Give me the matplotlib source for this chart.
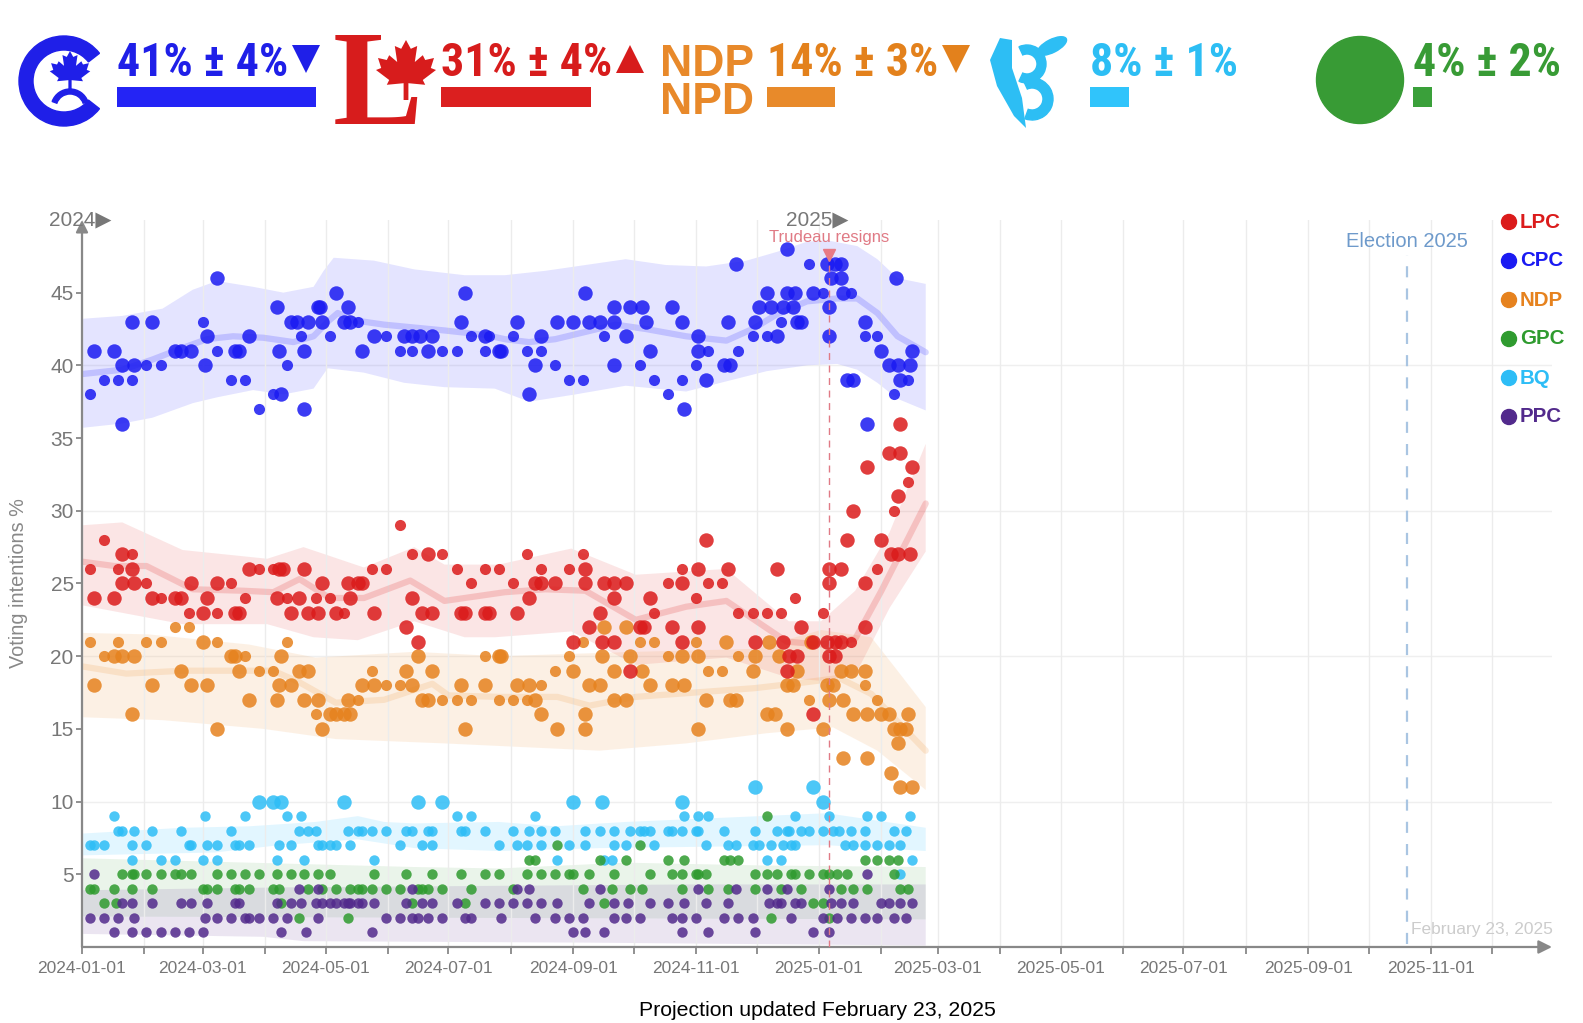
import numpy as np
import matplotlib
matplotlib.use("Agg")
import matplotlib.pyplot as plt
import matplotlib.dates as mdates
from matplotlib import font_manager as fm
from matplotlib.patches import Wedge, Circle, Ellipse, Polygon, Rectangle

plt.rcParams['font.family'] = ['Liberation Sans', 'DejaVu Sans']


def pick_font(names):
    for n in names:
        try:
            fm.findfont(fm.FontProperties(family=n), fallback_to_default=False)
            return n
        except ValueError:
            pass
    return 'DejaVu Sans'


narrow = pick_font(['Liberation Sans Narrow', 'Roboto Condensed', 'Liberation Sans'])

# ---------------- data (day offset from 2024-01-01, value, big marker) ----------------
cpc = [(4,38,0),(6,41,1),(11,39,0),(16,41,1),(18,39,0),(20,40,1),(20,36,1),(25,39,0),(25,43,1),(26,40,1),
       (32,40,0),(35,43,1),(39,40,0),(46,41,1),(49,41,1),(54,41,1),(60,43,0),(61,40,1),(62,42,1),(67,46,1),
       (67,41,0),(74,39,0),(76,41,1),(78,41,1),(81,39,0),(83,42,1),(88,37,0),(95,38,0),(97,44,1),(98,41,1),
       (99,38,1),(102,40,0),(104,43,1),(107,43,1),(109,42,0),(110,41,1),(110,37,1),(112,43,1),(117,44,1),
       (118,44,1),(119,43,1),(123,42,0),(126,45,1),(130,43,1),(132,44,1),(133,43,1),(137,43,0),(139,41,1),
       (145,42,1),(151,42,0),(158,41,0),(160,42,1),(164,41,0),(164,42,1),(168,42,1),(172,41,1),(174,42,1),
       (179,41,0),(186,41,0),(188,43,1),(190,45,1),(193,42,0),(200,42,1),(200,41,0),(202,42,0),(207,41,1),
       (208,41,1),(214,42,0),(216,43,1),(221,41,0),(222,38,1),(225,40,1),(228,42,1),(228,41,0),(235,40,0),
       (236,43,1),(242,39,0),(244,43,1),(249,39,0),(250,45,1),(252,43,1),(257,43,1),(259,42,0),(264,44,1),
       (264,40,1),(264,43,1),(270,42,1),(272,44,1),(277,40,0),(278,44,1),(280,43,1),(282,41,1),(284,39,0),
       (291,38,0),(293,44,1),(298,43,1),(298,39,0),(299,37,1),(305,40,0),(306,42,1),(306,41,1),(310,39,1),
       (311,41,0),(319,40,1),(321,43,1),(322,40,1),(325,47,1),(326,41,0),(333,42,0),(334,43,1),(336,44,1),
       (340,45,1),(340,42,0),(342,44,1),(345,42,1),(347,43,0),(348,44,1),(350,45,1),(350,48,1),(353,44,1),
       (354,45,1),(355,43,1),(357,43,1),(361,47,0),(363,45,1),(368,45,0),(370,47,1),(371,44,1),(371,42,1),
       (372,46,1),(374,47,1),(377,47,1),(377,46,1),(378,45,1),(380,39,1),(382,45,0),(383,39,1),(389,43,1),
       (389,42,0),(390,36,1),(395,42,0),(397,41,1),(401,40,1),(403,38,0),(404,46,1),(405,40,1),(406,39,1),
       (410,39,0),(411,40,1),(412,41,1)]

lpc = [(4,26,0),(6,24,1),(11,28,0),(16,24,1),(18,26,0),(20,27,1),(20,25,1),(25,27,0),(25,26,1),(26,25,1),
       (32,25,0),(35,24,1),(39,24,0),(46,24,1),(49,24,1),(53,23,0),(54,25,1),(60,23,1),(62,24,1),(67,25,1),
       (67,23,0),(74,25,0),(76,23,1),(78,23,1),(81,24,0),(83,26,1),(88,26,0),(95,26,0),(97,24,1),(98,26,1),
       (100,26,1),(102,24,0),(104,23,1),(108,24,1),(110,26,1),(112,23,1),(116,24,0),(117,23,1),(119,25,1),
       (123,24,0),(126,23,1),(130,23,0),(132,25,1),(133,24,1),(137,25,1),(139,25,1),(144,26,0),(145,23,1),
       (151,26,0),(158,29,0),(161,22,1),(164,27,0),(164,24,1),(167,21,1),(169,23,1),(172,27,1),(174,23,1),
       (179,27,0),(186,26,0),(188,23,1),(190,23,1),(193,25,0),(200,23,1),(200,26,0),(202,23,1),(207,26,0),
       (214,25,0),(216,23,1),(221,27,0),(222,24,1),(225,25,1),(228,26,0),(228,25,1),(235,25,1),(242,26,0),
       (244,21,1),(249,27,0),(250,26,1),(250,25,1),(252,22,1),(257,23,1),(258,21,1),(259,25,1),(264,25,1),
       (264,24,1),(264,21,1),(270,25,1),(272,19,1),(277,22,1),(279,22,1),(282,24,1),(284,23,0),(291,25,0),
       (293,22,1),(298,26,0),(298,25,1),(298,21,1),(305,24,0),(306,26,1),(306,22,1),(310,28,1),(311,25,0),
       (318,25,0),(321,26,1),(326,23,0),(333,23,0),(334,21,1),(340,23,0),(345,26,1),(347,23,0),(348,21,1),
       (350,19,1),(351,20,1),(354,24,0),(355,20,1),(357,22,1),(363,21,1),(363,16,1),(368,23,0),(370,21,1),
       (371,25,1),(371,26,1),(371,20,1),(374,21,1),(374,20,1),(377,26,1),(377,21,1),(380,28,1),(382,21,0),
       (383,30,1),(389,22,1),(389,25,1),(390,33,1),(395,26,0),(397,28,1),(401,34,1),(402,27,1),(403,30,0),
       (405,27,1),(405,31,1),(406,36,1),(406,34,1),(410,32,0),(411,27,1),(412,33,1)]

ndp = [(4,21,0),(6,18,1),(11,20,0),(16,20,1),(18,21,0),(20,20,1),(25,16,1),(26,20,1),(32,21,0),(35,18,1),
       (39,21,0),(46,22,0),(49,19,1),(53,22,0),(54,18,1),(60,21,1),(62,18,1),(67,21,0),(67,15,1),(74,20,1),
       (76,20,1),(78,19,1),(81,20,0),(83,17,1),(88,19,0),(95,19,0),(97,17,1),(98,18,1),(99,20,1),(102,21,0),
       (104,18,1),(108,19,1),(110,17,1),(112,19,1),(116,16,0),(117,17,1),(119,15,1),(123,16,1),(126,16,1),
       (130,16,1),(132,17,1),(133,16,1),(137,17,0),(139,18,1),(144,19,0),(145,18,1),(151,18,0),(158,18,0),
       (161,19,1),(164,18,1),(167,20,1),(169,17,1),(172,17,1),(174,19,1),(179,17,0),(186,17,0),(188,18,1),
       (190,15,1),(193,17,0),(200,18,1),(200,20,0),(207,20,1),(208,20,1),(207,17,0),(214,17,0),(216,18,1),
       (221,17,0),(222,18,1),(225,17,1),(228,18,0),(228,16,1),(235,19,0),(236,15,1),(242,20,0),(244,19,1),
       (249,21,0),(250,16,1),(250,15,1),(252,18,1),(257,18,1),(258,20,1),(259,22,1),(264,19,1),(264,17,1),
       (270,22,1),(270,17,1),(272,20,1),(277,21,0),(278,19,1),(282,18,1),(284,21,0),(291,20,0),(293,18,1),
       (298,20,1),(299,18,1),(305,21,0),(306,15,1),(306,20,1),(310,17,1),(311,19,0),(318,19,0),(320,21,1),
       (322,17,1),(325,17,1),(326,20,0),(333,19,1),(334,20,1),(340,16,1),(341,21,1),(344,16,1),(346,20,1),
       (350,15,1),(350,18,1),(353,18,1),(355,19,1),(361,17,0),(362,21,1),(368,15,1),(370,18,1),(371,17,1),
       (373,18,1),(377,19,1),(378,17,1),(378,13,1),(382,19,1),(383,16,1),(389,19,1),(389,18,0),(390,16,1),
       (390,13,1),(395,17,0),(397,16,1),(401,16,1),(402,12,1),(403,15,1),(405,14,1),(406,15,1),(406,11,1),
       (409,15,1),(410,16,1),(412,11,1)]

bq = [(4,7,0),(6,7,0),(11,7,0),(16,9,0),(18,8,0),(20,8,0),(25,7,0),(25,6,0),(26,8,0),(32,7,0),(35,8,0),
      (39,6,0),(46,6,0),(49,8,0),(53,7,0),(54,7,0),(60,6,0),(61,9,0),(62,7,0),(67,6,0),(67,7,0),(74,8,0),
      (76,7,0),(78,7,0),(81,9,0),(83,7,0),(88,10,1),(95,10,1),(97,6,0),(98,7,0),(99,10,1),(102,9,0),(104,7,0),
      (108,8,0),(109,9,0),(110,6,0),(112,8,0),(116,8,0),(117,7,0),(119,7,0),(123,7,0),(126,7,0),(130,10,1),
      (132,8,0),(133,7,0),(137,8,0),(139,8,0),(144,8,0),(145,6,0),(151,8,0),(158,7,0),(161,8,0),(164,8,0),
      (167,10,1),(169,7,0),(172,8,0),(174,7,0),(174,8,0),(179,10,1),(186,9,0),(188,8,0),(190,8,0),(193,9,0),
      (200,8,0),(207,7,0),(214,8,0),(216,7,0),(221,7,0),(222,8,0),(225,9,0),(228,8,0),(228,7,0),(235,8,0),
      (236,6,0),(242,7,0),(244,10,1),(250,8,0),(250,7,0),(257,8,0),(258,10,1),(259,6,0),(263,6,0),(264,8,0),
      (264,7,0),(270,7,0),(272,8,0),(277,8,0),(279,8,0),(282,8,0),(284,7,0),(291,8,0),(293,8,0),(298,8,0),
      (298,10,1),(299,9,0),(305,8,0),(306,9,0),(306,8,0),(310,7,0),(311,9,0),(319,8,0),(321,7,0),(325,7,0),
      (333,7,0),(334,8,0),(334,11,1),(336,7,0),(340,6,0),(342,7,0),(345,8,0),(347,6,0),(348,7,0),(350,8,0),
      (351,8,0),(352,7,0),(354,7,0),(354,9,0),(357,8,0),(361,8,0),(363,11,1),(368,8,0),(368,10,1),(371,9,0),
      (373,8,0),(376,8,0),(379,7,0),(382,8,0),(383,7,0),(389,8,0),(390,9,0),(389,7,0),(395,7,0),(397,9,0),
      (401,7,0),(403,8,0),(406,7,0),(406,5,0),(409,8,0),(411,9,0),(412,6,0)]

gpc = [(4,4),(6,4),(11,3),(16,4),(17,3),(20,5),(25,5),(25,4),(26,5),(32,5),(35,4),(39,5),(46,5),(49,5),
       (54,5),(60,4),(62,4),(67,5),(67,4),(74,5),(76,4),(78,4),(81,5),(83,4),(88,5),(95,4),(97,5),(98,4),
       (99,3),(104,5),(108,2),(110,5),(112,4),(117,5),(119,4),(123,5),(126,4),(132,2),(133,4),(137,4),
       (139,4),(144,4),(145,5),(151,4),(158,4),(161,5),(164,3),(167,4),(169,4),(172,4),(174,5),(179,4),
       (188,5),(190,3),(193,4),(200,5),(207,5),(214,4),(221,5),(222,6),(225,6),(228,5),(235,5),(236,7),
       (242,5),(244,5),(249,4),(252,5),(257,6),(259,3),(263,4),(264,5),(270,6),(272,4),(277,7),(278,4),
       (282,5),(291,6),(293,5),(298,5),(298,4),(299,6),(305,5),(306,5),(310,5),(311,4),(319,6),(321,4),
       (322,6),(326,6),(334,5),(334,4),(340,5),(340,9),(342,2),(345,5),(347,4),(352,5),(354,5),(357,4),
       (361,5),(363,3),(368,5),(368,3),(371,5),(371,2),(375,5),(377,4),(380,5),(383,4),(389,6),(390,4),
       (395,6),(401,6),(403,5),(405,6),(406,4),(410,4)]

ppc = [(6,5),(4,2),(11,2),(16,1),(18,2),(20,3),(25,3),(25,1),(26,2),(32,1),(35,3),(39,1),(46,1),(49,3),
       (53,1),(54,3),(60,1),(61,2),(62,3),(67,2),(74,2),(76,3),(78,3),(81,2),(83,2),(88,2),(95,2),(97,3),
       (99,1),(102,2),(104,3),(108,4),(109,3),(111,1),(116,3),(117,4),(117,2),(119,3),(123,3),(126,3),
       (130,3),(132,3),(133,3),(137,3),(139,3),(144,1),(145,3),(151,2),(158,2),(161,3),(164,4),(164,2),
       (167,2),(169,3),(172,2),(174,3),(179,2),(186,3),(190,2),(193,2),(200,3),(207,3),(208,2),(214,3),
       (216,4),(221,3),(222,4),(225,2),(228,3),(235,2),(236,3),(242,2),(244,1),(249,2),(250,1),(252,3),
       (257,4),(259,1),(264,3),(264,2),(270,2),(271,3),(277,2),(282,3),(291,3),(293,2),(298,2),(298,1),
       (299,3),(305,2),(306,4),(310,3),(311,1),(319,2),(321,3),(325,4),(326,2),(333,2),(334,1),(340,4),
       (341,3),(345,3),(347,3),(350,4),(352,2),(354,3),(357,3),(363,1),(368,2),(371,1),(371,4),(372,3),
       (375,2),(377,3),(382,2),(383,3),(389,2),(390,5),(395,2),(397,3),(401,3),(403,2),(406,3),(409,2),
       (412,3)]

# trend and band knots (day, value)
cpc_mid_d = [0,20,35,50,62,75,90,105,115,122,127,135,150,165,180,200,210,222,235,250,265,280,300,320,333,345,360,375,385,395,405,419]
cpc_mid = [39.4,39.7,40.4,41.2,41.8,42.0,41.9,41.6,42.0,43.0,43.6,43.1,42.8,42.6,42.4,42.1,41.8,41.6,41.8,42.3,42.8,42.5,42.0,41.7,42.5,43.5,44.4,44.6,44.6,43.6,42.0,40.9]
cpc_hi_d = [0,20,40,55,67,85,100,115,120,125,145,165,190,210,230,245,270,290,310,330,345,360,370,385,395,405,419]
cpc_hi = [43.2,43.4,43.9,45.2,45.8,45.4,45.0,45.4,46.5,47.4,47.2,46.6,46.2,46.2,46.5,46.8,47.3,46.9,46.8,47.2,47.8,48.5,48.6,48.2,47.3,46.0,45.6]
cpc_lo_d = [0,20,35,55,67,85,100,115,122,140,160,180,205,222,245,270,300,320,340,360,375,385,395,405,419]
cpc_lo = [35.7,36.0,36.4,37.4,37.8,38.3,38.0,38.4,39.8,39.5,38.8,38.5,38.4,37.5,38.0,38.6,38.2,38.9,39.6,40.0,40.1,39.7,38.8,37.7,36.9]

lpc_mid_d = [0,16,32,55,80,95,108,123,140,163,180,210,230,250,275,300,320,350,367,384,397,419]
lpc_mid = [26.5,26.2,26.2,24.6,24.5,24.4,25.3,24.0,24.0,25.2,23.8,24.4,24.6,24.5,22.5,23.4,23.8,21.0,20.8,21.2,24.5,30.5]
lpc_hi_d = [0,20,50,92,110,140,165,180,207,243,275,320,351,367,384,401,419]
lpc_hi = [29.0,29.2,27.3,26.7,27.5,26.1,27.5,26.3,26.3,27.4,25.6,26.0,22.4,22.4,24.5,28.5,34.6]
lpc_lo_d = [0,50,92,115,137,165,190,205,243,275,320,351,367,384,401,419]
lpc_lo = [23.5,22.2,22.2,21.3,21.1,22.4,21.3,21.3,21.7,19.4,19.9,18.5,18.3,18.7,23.3,27.2]

ndp_mid_d = [0,22,50,82,95,108,126,150,174,182,207,236,252,275,334,359,376,392,405,419]
ndp_mid = [19.3,18.8,19.0,19.0,19.0,18.2,16.8,17.0,18.1,17.3,17.2,17.2,16.6,17.2,17.8,18.2,18.5,17.4,15.5,13.5]
ndp_hi_d = [0,33,83,116,165,207,275,334,367,392,405,419]
ndp_hi = [21.6,21.5,20.8,19.9,20.3,20.0,20.3,20.5,21.8,21.3,19.0,16.5]
ndp_lo_d = [0,40,90,126,180,257,300,340,373,395,419]
ndp_lo = [15.8,15.6,15.0,14.3,14.0,13.5,14.0,14.7,15.1,13.5,10.8]

bq_hi_d = [0,50,83,116,137,150,165,207,235,270,370,419]
bq_hi = [7.8,8.2,8.3,8.6,9.0,8.6,8.5,8.6,8.3,8.6,9.2,8.2]
bq_lo_d = [0,66,98,137,165,207,257,370,419]
bq_lo = [6.3,6.5,7.0,7.4,6.8,6.6,6.8,7.0,6.6]

gpc_hi_d = [0,83,165,207,270,340,419]
gpc_hi = [6.1,5.8,5.5,5.4,5.8,5.6,5.5]
gpc_lo_d = [0,200,419]
gpc_lo = [2.1,2.0,1.9]

ppc_hi_d = [0,100,200,300,419]
ppc_hi = [3.9,4.1,4.2,4.3,4.3]
ppc_lo_d = [0,90,110,250,419]
ppc_lo = [0.9,0.7,0.4,0.3,0.1]

# header summary
head_names = ['CPC', 'LPC', 'NDP', 'BQ', 'GPC']
head_vals = [41, 31, 14, 8, 4]
head_err = [4, 4, 3, 1, 2]
head_arrow = ['v', '^', 'v', None, None]

legend_names = ['LPC', 'CPC', 'NDP', 'GPC', 'BQ', 'PPC']

resign_day = 371     # 2025-01-06
election_day = 658   # 2025-10-20

col = {'CPC': '#1a1af2', 'LPC': '#db1b1b', 'NDP': '#e6821e', 'BQ': '#2dbdf6',
       'GPC': '#2f9b2f', 'PPC': '#522a8c'}
band_col = {'CPC': '#3030ff', 'LPC': '#e03030', 'NDP': '#f0a050', 'BQ': '#40c8ff',
            'GPC': '#40a040', 'PPC': '#6a3a9a'}

base = mdates.date2num(np.datetime64('2024-01-01'))

fig = plt.figure(figsize=(15.83, 10.23), dpi=100)
ax = fig.add_axes([0.0518, 0.0743, 0.9286, 0.7107])
ax.patch.set_alpha(0)


def band(hi_d, hi, lo_d, lo, c, a):
    xs = [base + d for d in hi_d] + [base + d for d in lo_d[::-1]]
    ys = list(hi) + list(lo[::-1])
    ax.fill(xs, ys, color=c, alpha=a, lw=0, zorder=1)


band(cpc_hi_d, cpc_hi, cpc_lo_d, cpc_lo, band_col['CPC'], 0.13)
band(lpc_hi_d, lpc_hi, lpc_lo_d, lpc_lo, band_col['LPC'], 0.12)
band(ndp_hi_d, ndp_hi, ndp_lo_d, ndp_lo, band_col['NDP'], 0.15)
band(bq_hi_d, bq_hi, bq_lo_d, bq_lo, band_col['BQ'], 0.15)
band(gpc_hi_d, gpc_hi, gpc_lo_d, gpc_lo, band_col['GPC'], 0.11)
band(ppc_hi_d, ppc_hi, ppc_lo_d, ppc_lo, band_col['PPC'], 0.13)

for d, v, c in [(cpc_mid_d, cpc_mid, band_col['CPC']), (lpc_mid_d, lpc_mid, band_col['LPC']),
                (ndp_mid_d, ndp_mid, band_col['NDP'])]:
    ax.plot([base + x for x in d], v, color=c, alpha=0.2, lw=4.5, solid_capstyle='round', zorder=2)


def dots(pts, c, big_s=108, small_s=64, z=3):
    pts = np.array(pts)
    if pts.shape[1] == 2:
        big = np.zeros(len(pts), dtype=bool)
    else:
        big = pts[:, 2] == 1
    ax.scatter(base + pts[~big, 0], pts[~big, 1], s=small_s, color=c, alpha=0.85, lw=0, zorder=z)
    ax.scatter(base + pts[big, 0], pts[big, 1], s=big_s, color=c, alpha=0.85, lw=0, zorder=z)


dots(bq, col['BQ'], small_s=56)
dots(gpc, col['GPC'], small_s=56)
dots(ppc, col['PPC'], small_s=56)
dots(ndp, col['NDP'])
dots(lpc, col['LPC'])
dots(cpc, col['CPC'])

ax.set_xlim(base, base + 730)
ax.set_ylim(0, 50)
ax.xaxis_date()
ax.xaxis.set_major_locator(mdates.MonthLocator(bymonth=[1, 3, 5, 7, 9, 11]))
ax.xaxis.set_minor_locator(mdates.MonthLocator())
ax.xaxis.set_major_formatter(mdates.DateFormatter('%Y-%m-%d'))
ax.set_yticks([5, 10, 15, 20, 25, 30, 35, 40, 45])
for s in ax.spines.values():
    s.set_visible(False)
ax.tick_params(axis='x', which='both', length=5, width=1.3, color='#888888', pad=5,
               labelsize=12.5, labelcolor='#777777')
ax.tick_params(axis='y', length=4.5, width=1.3, color='#888888', pad=1.5,
               labelsize=15, labelcolor='#777777')
ax.grid(True, axis='x', which='both', color='#ececec', lw=1, zorder=0)
for g in [10, 20, 30, 40]:
    ax.axhline(g, color='#efefef', lw=1, zorder=0)

ax.annotate('', xy=(0, 1.0), xytext=(0, 0), xycoords='axes fraction',
            arrowprops=dict(arrowstyle='-|>', color='#888888', lw=1.6, mutation_scale=18, shrinkA=0, shrinkB=0))
ax.annotate('', xy=(1.0, 0), xytext=(0, 0), xycoords='axes fraction',
            arrowprops=dict(arrowstyle='-|>', color='#888888', lw=1.6, mutation_scale=20, shrinkA=0, shrinkB=0))

ax.text(base - 16.5, 50, '2024\u25B6', fontsize=15, color='#777777', va='center', ha='left',
        family=['Liberation Sans', 'DejaVu Sans'], clip_on=False)
ax.text(base + 349.5, 50, '2025\u25B6', fontsize=15, color='#777777', va='center', ha='left',
        family=['Liberation Sans', 'DejaVu Sans'], clip_on=False)

# Trudeau resigns marker
ax.plot([base + resign_day] * 2, [0, 47.4], color='#e07a85', lw=1, dashes=(5, 4), zorder=4)
ax.plot(base + resign_day, 47.6, marker='v', ms=9, color='#e87a85', zorder=5, clip_on=False)
ax.text(base + resign_day, 48.8, 'Trudeau resigns', color='#e07a85', fontsize=12, ha='center', va='center')

# election line
ax.plot([base + election_day] * 2, [0.2, 47.6], color='#a9c5e2', lw=1.6, dashes=(5, 5), zorder=4)
ax.text(base + election_day, 48.5, 'Election 2025', color='#6e9acb', fontsize=14.5, ha='center', va='center')
ax.text(base + election_day + 2, 1.2, 'February 23, 2025', color='#cccccc', fontsize=12.5, ha='left', va='center')

ax.set_ylabel('Voting intentions %', fontsize=14.3, color='#888888')
ax.yaxis.set_label_coords(-0.037, 0.5)
ax.set_xlabel('Projection updated February 23, 2025', fontsize=15.3, color='black', labelpad=18)

# ---------------- header and legend in pixel space ----------------
ov = fig.add_axes([0, 0, 1, 1], zorder=10)
ov.set_xlim(0, 1583)
ov.set_ylim(1023, 0)
ov.axis('off')
ov.patch.set_alpha(0)

# legend
for i, name in enumerate(legend_names):
    y = 222 + i * 39
    ov.add_patch(Circle((1509, y), 7.5, color=col[name]))
    ov.text(1520, y, name, color=col[name], fontsize=14.8, fontweight='bold', va='center', ha='left')

leaf = np.array([(0, 1.0), (0.12, 0.78), (0.28, 0.85), (0.22, 0.45), (0.42, 0.62), (0.48, 0.5),
                 (0.7, 0.55), (0.62, 0.3), (0.75, 0.25), (0.42, 0.0), (0.48, -0.12), (0.06, -0.08),
                 (0.06, -0.5), (-0.06, -0.5), (-0.06, -0.08), (-0.48, -0.12), (-0.42, 0.0), (-0.75, 0.25),
                 (-0.62, 0.3), (-0.7, 0.55), (-0.48, 0.5), (-0.42, 0.62), (-0.22, 0.45), (-0.28, 0.85),
                 (-0.12, 0.78)])


def maple(cx, cy, s, c):
    ov.add_patch(Polygon(np.column_stack([cx + s * leaf[:, 0], cy - s * leaf[:, 1]]), closed=True, color=c, lw=0))


hc = {'CPC': '#1f1fe8', 'LPC': '#d71c1c', 'NDP': '#e3811c', 'BQ': '#2dbef4', 'GPC': '#389b35'}
bar_c = {'CPC': '#2424f5', 'LPC': '#db1f1f', 'NDP': '#e88a2a', 'BQ': '#30c4fb', 'GPC': '#3aa03a'}

# CPC logo
ov.add_patch(Wedge((64, 81), 45, 38, 322, width=14, color=hc['CPC']))
maple(70, 78, 27, hc['CPC'])
ov.add_patch(Wedge((70, 108), 19, 200, 340, width=5, color=hc['CPC']))
# LPC logo
ov.text(333, 124, 'L', fontsize=97, fontweight='bold', color=hc['LPC'], family='Liberation Serif', va='baseline')
maple(406, 80, 40, hc['LPC'])
# NDP logo
ov.text(660, 76, 'NDP', fontsize=32, fontweight='bold', color='#e8892a', va='baseline')
ov.text(660, 114, 'NPD', fontsize=32, fontweight='bold', color='#e8892a', va='baseline')
# BQ logo
ov.add_patch(Polygon([(990, 60), (1000, 38), (1012, 40), (1012, 68), (1022, 98), (1026, 128),
                      (1014, 116), (997, 86)], closed=True, color=hc['BQ'], lw=0))
ov.add_patch(Wedge((1027, 64), 19, -115, 115, width=9, color=hc['BQ']))
ov.add_patch(Wedge((1032, 99), 21, -115, 110, width=10, color=hc['BQ']))
ov.add_patch(Ellipse((1052, 46), 32, 13, angle=-27, color=hc['BQ']))
# GPC logo
ov.add_patch(Circle((1360, 80), 43.5, color=hc['GPC']))

head_x = [117, 441, 767, 1090, 1413]
px_per_pct = 4.85
fig.canvas.draw()
for name, x, v, e, arr in zip(head_names, head_x, head_vals, head_err, head_arrow):
    t = ov.text(x, 76, f'{v}% \u00b1 {e}%', fontsize=33, fontweight='bold', color=hc[name],
                family=narrow, va='baseline', ha='left')
    ov.add_patch(Rectangle((x, 87), v * px_per_pct, 20, color=bar_c[name], lw=0))
    if arr:
        bb = t.get_window_extent(renderer=fig.canvas.get_renderer())
        ov.plot(bb.x1 + 18, 59, marker=arr, ms=20, color=hc[name], mew=0)

fig.savefig('out.png', dpi=100)
